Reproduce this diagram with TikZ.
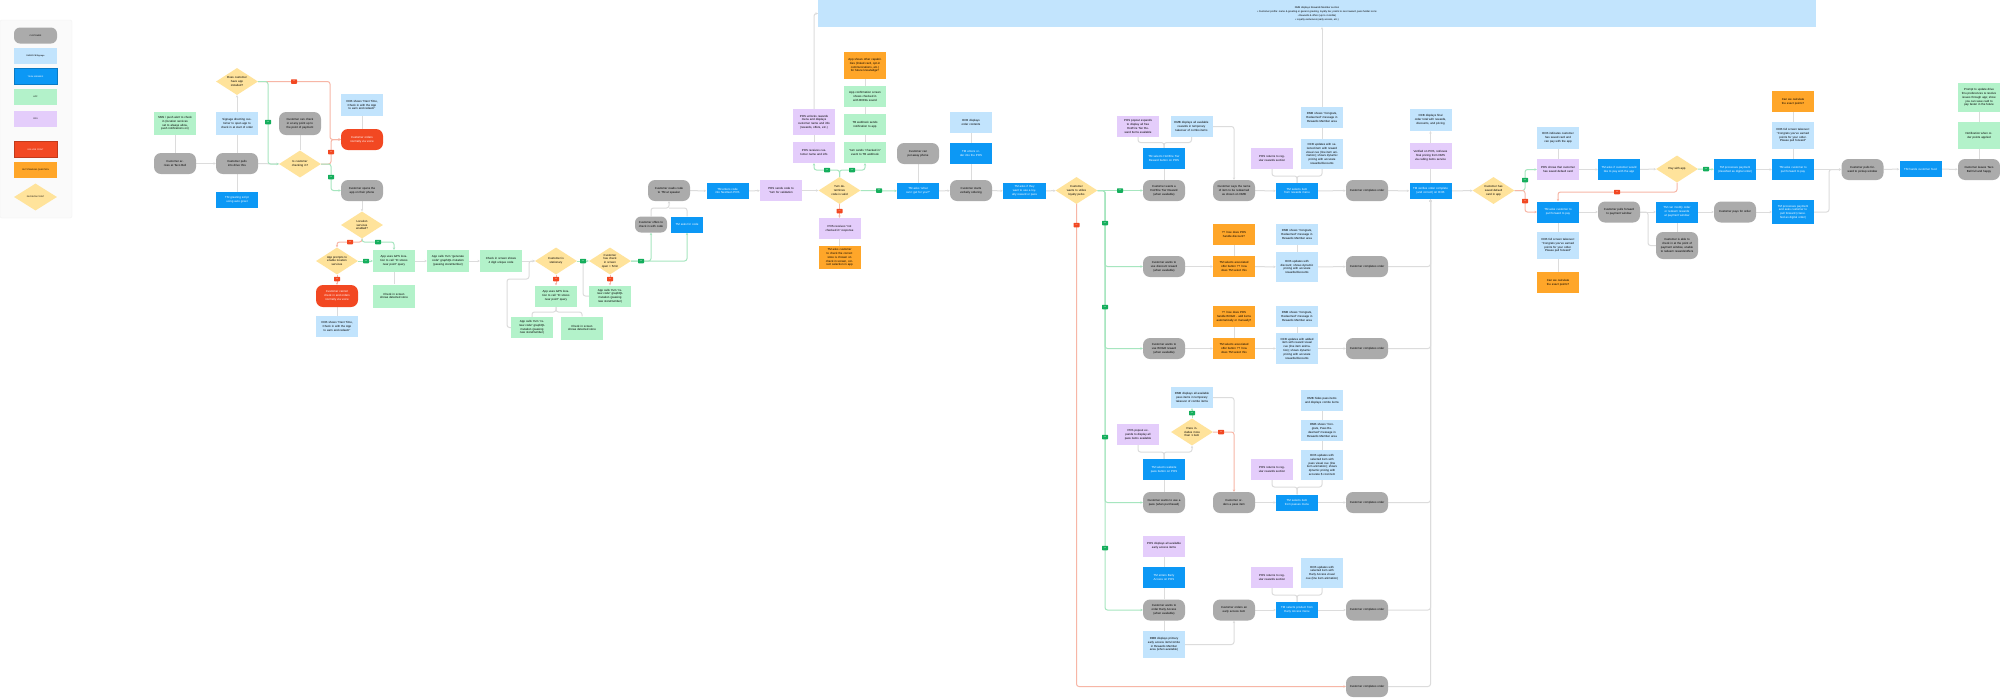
\documentclass[tikz,border=0pt]{standalone}
\usepackage{fontspec}
\setmainfont{Liberation Sans}
\usetikzlibrary{shapes.geometric,arrows.meta,backgrounds}

\definecolor{custgray}{HTML}{ABABAB}
\definecolor{scrblue}{HTML}{C2E4FD}
\definecolor{tmblue}{HTML}{0C98F5}
\definecolor{appgreen}{HTML}{B3F2CA}
\definecolor{posviolet}{HTML}{E4CDFB}
\definecolor{failred}{HTML}{F24822}
\definecolor{askorange}{HTML}{FFA629}
\definecolor{decyellow}{HTML}{FFE39B}
\definecolor{linegray}{HTML}{DCDCDC}
\definecolor{linegreen}{HTML}{A6E6BF}
\definecolor{linered}{HTML}{F7B6A6}
\definecolor{labgreen}{HTML}{14AE5C}

\begin{document}
\begin{tikzpicture}[x=1pt,y=-1pt,
  box/.style={rectangle,font=\fontsize{2.9}{3.8}\selectfont,align=center,
              text width=35pt,minimum width=42pt,minimum height=21pt,inner sep=0pt},
  pill/.style={box,fill=custgray,rounded corners=7pt},
  scrn/.style={box,fill=scrblue},
  tmbox/.style={box,fill=tmblue,text=white,minimum height=16pt},
  appbox/.style={box,fill=appgreen},
  posbox/.style={box,fill=posviolet},
  failpill/.style={pill,fill=failred,text=white},
  askbox/.style={box,fill=askorange},
  decision/.style={diamond,aspect=1.55,fill=decyellow,font=\fontsize{2.9}{3.8}\selectfont,
                   align=center,text width=20pt,minimum width=42pt,minimum height=27pt,inner sep=0pt},
  lgitem/.style={box,minimum width=43pt,minimum height=16pt,font=\fontsize{2.1}{2.7}\selectfont},
  flow/.style={draw=linegray,line width=1pt,rounded corners=2.5pt,
               -{Stealth[length=2.4pt,width=2.4pt]}},
  link/.style={draw=linegray,line width=1pt,rounded corners=2.5pt},
  yesflow/.style={flow,draw=linegreen},
  noflow/.style={flow,draw=linered},
  yeslab/.style={rectangle,rounded corners=0.6pt,fill=labgreen,text=white,
                 font=\fontsize{1.5}{1.7}\selectfont,inner sep=0pt,minimum width=6pt,minimum height=4.5pt},
  nolab/.style={yeslab,fill=failred},
]

\useasboundingbox (0,0) rectangle (2000,697);

% Legend
\node[rectangle,rounded corners=2pt,fill=black!2,draw=black!5,minimum width=72pt,
      minimum height=198pt,inner sep=0pt] (legend) at (36,119) {};
\node[lgitem,fill=custgray,rounded corners=6pt] (lgcust) at (35.5,35.5) {CUSTOMER};
\node[lgitem,fill=scrblue] (lgscreen) at (35.5,56) {DMB/OCB/Signage};
\node[lgitem,fill=tmblue,text=white,draw=tmblue!80!black,line width=0.4pt] (lgtm) at (35.5,76.5) {TEAM MEMBER};
\node[lgitem,fill=appgreen] (lgapp) at (35.5,97) {APP};
\node[lgitem,fill=posviolet] (lgpos) at (35.5,118.5) {POS};
\node[lgitem,fill=failred,text=white,draw=failred!80!black,line width=0.4pt] (lgfail) at (35.5,149.5) {FAILURE POINT};
\node[lgitem,fill=askorange] (lgask) at (35.5,170) {OUTSTANDING QUESTION};
\node[decision,minimum width=43pt,font=\fontsize{2.1}{2.7}\selectfont] (lgdec) at (35.5,197) {DECISION POINT};

% Arrival and check in
\node[appbox,minimum height=23pt] (sms) at (175,123.5) {SMS / push alert to check in (location services set to always allow, push notifications on)};
\node[pill] (arrive) at (175,163.5) {Customer arrives at Taco Bell};
\node[pill] (pullin) at (237,163.5) {Customer pulls into drive thru};
\node[scrn,minimum height=23pt] (signage) at (237,123.5) {Signage directing customer to open app to check in at start of order};
\node[decision] (hasapp) at (237,81.5) {Does customer have app installed?};
\node[tmbox] (greet) at (237,200) {TM greeting script using auto greet};
\node[pill,minimum height=23pt] (anytime) at (300,123.5) {Customer can check in at any point up to the point of payment};
\node[decision] (checking) at (300,164) {Is customer checking in?};
\node[scrn,minimum height=22pt] (ocbnext1) at (362,105) {OCB shows “Next Time, Check in with the App to earn and redeem”};
\node[failpill] (voice1) at (362,139.5) {Customer orders normally via voice};
\node[pill] (openapp) at (362,190.5) {Customer opens the app on their phone};
\node[decision] (locsvc) at (362,225) {Location services enabled?};
\node[decision] (prompt) at (337,261) {App prompts to enable location services};
\node[appbox,minimum height=22pt] (gps1) at (394,261) {App uses GPS location to call “IC stores near point” query};
\node[appbox,minimum height=23pt] (detect1) at (394,296) {Check in screen shows detected store};
\node[failpill,minimum height=22pt] (cannot) at (337,296) {Customer cannot check in and orders normally via voice};
\node[scrn] (ocbnext2) at (337,326.5) {OCB shows “Next Time, Check in with the App to earn and redeem”};
\node[appbox,minimum height=22pt] (gencode) at (448,261) {App calls Yum “generate code” graphQL mutation (passing storeNumber)};
\node[appbox,minimum height=22pt] (fourdig) at (501,261) {Check in screen shows 4 digit unique code};
\node[decision] (still) at (556,261) {Customer is stationary};
\node[decision] (fivemin) at (610,261) {Customer has check in screen open > 5min};
\node[appbox] (gps2) at (556,296) {App uses GPS location to call “IC stores near point” query};
\node[appbox] (renew1) at (532,327.5) {App calls Yum “renew code” graphQL mutation (passing new storeNumber)};
\node[appbox,minimum height=23pt] (detect2) at (582,328) {Check in screen shows detected store};
\node[appbox] (renew2) at (610,296) {App calls Yum “renew code” graphQL mutation (passing new storeNumber)};

% Code check in at the speaker
\node[pill,minimum width=32pt,text width=28pt,minimum height=16pt,rounded corners=6pt] (offer) at (651,224.5) {Customer offers to check in with code};
\node[tmbox,minimum width=32pt,text width=28pt] (askcode) at (687,224.5) {TM asks for code};
\node[pill] (readcode) at (669,190.5) {Customer reads code to TM at speaker};
\node[tmbox] (entercode) at (727.5,191) {TM enters code into NextGen POS};
\node[posbox] (sendcode) at (781,190.5) {POS sends code to Yum for validation};
\node[decision] (valid) at (839.5,190.5) {Yum determines code is valid};
\node[posbox] (notin) at (839.5,228.5) {POS receives “not checked in” response};
\node[askbox,minimum height=23pt] (wrongstore) at (839.5,257.5) {TM asks customer to check the correct store is chosen on check in screen, correct selection in app};
\node[posbox] (posinfo) at (814,152.5) {POS receives customer name and info};
\node[posbox,minimum height=26pt] (posunlock) at (814,122) {POS unlocks rewards menu and displays customer name and info (rewards, offers, etc.)};
\node[appbox] (yumevent) at (865,152.5) {Yum sends “checked in” event to TB webhook};
\node[appbox] (webhook) at (865,124.5) {TB webhook sends notification to app};
\node[appbox] (confirm) at (865,96.5) {App confirmation screen shows checked in with BONG sound};
\node[askbox,minimum height=27pt] (capab) at (865,65.5) {App shows other capabilities (linked card, opt-in communications, etc.) for future knowledge?};

% Rewards member banner
\node[rectangle,fill=scrblue,minimum width=998pt,minimum height=27pt,inner sep=0pt] (dmbtop) at (1317,13.5) {};
\node[font=\fontsize{2.5}{4}\selectfont,align=center,inner sep=0pt] (dmbtext) at (1317,13.5)
  {DMB displays Rewards Member section\\
   • Customer profile: name \& greeting or generic greeting, loyalty tier, points to next reward, pass holder icons\\
   • Rewards \& offers (up to 4 visible)\\
   • Loyalty exclusives (early access, etc.)};

% Ordering
\node[tmbox] (whatget) at (918,191) {TM asks “what can I get for you?”};
\node[pill] (putaway) at (918,153.5) {Customer can put away phone};
\node[pill] (verbal) at (971,190.5) {Customer starts verbally ordering};
\node[tmbox,minimum height=21pt] (enterorder) at (971,153.5) {TM enters order into the POS};
\node[scrn] (ocborder) at (971,122.5) {OCB displays order contents};
\node[tmbox,minimum width=43pt] (askloyal) at (1024.5,191) {TM asks if they want to use a loyalty reward or pass};
\node[decision] (perks) at (1076.5,190.5) {Customer wants to utilize loyalty perks};

% Hot/Fire tier reward
\node[pill] (firepill) at (1164,190.5) {Customer wants a Hot/Fire Tier Reward (when available)};
\node[tmbox,minimum height=21pt] (firebtn) at (1164,158.5) {TM selects Hot/Fire Tier Reward button on POS};
\node[posbox] (firepos) at (1138,126.5) {POS popout expands to display all free Hot/Fire Tier Reward Items available};
\node[scrn] (firedmb) at (1191.5,126.5) {DMB displays all available rewards in temporary takeover of combo items};
\node[pill] (saysname) at (1234,190.5) {Customer says the name of item to be redeemed as shown on DMB};
\node[tmbox] (pickrew) at (1297,191) {TM selects item from rewards menu};
\node[posbox] (posret1) at (1272,158.5) {POS returns to regular rewards section};
\node[scrn,minimum height=30pt] (ocbrew1) at (1322,154) {OCB updates with selected item with reward visual cue (line item animation); shows dynamic pricing with accurate rewards/discounts};
\node[scrn] (dmbcon1) at (1322,117.5) {DMB shows “Congrats, Redeemed” message in Rewards Member area};
\node[pill] (done1) at (1367,190.5) {Customer completes order};
\node[tmbox] (verify) at (1430.5,191) {TM verifies order complete (and correct) on OCB};
\node[posbox,minimum height=26pt] (verpos) at (1430.5,156) {Verified on POS, retrieves final pricing from DMS via calling items service};
\node[scrn,minimum height=22pt] (ocbtotal) at (1430.5,120) {OCB displays final order total with rewards, discounts, and pricing};

% Discount reward
\node[pill] (discpill) at (1164,266.5) {Customer wants to use discount reward (when available)};
\node[askbox] (discq) at (1234,234.5) {?? how does POS handle discount?};
\node[askbox] (discbtn) at (1234,266.5) {TM selects associated offer button ?? how does TM select this};
\node[scrn] (dmbcon2) at (1297,234.5) {DMB shows “Congrats, Redeemed” message in Rewards Member area};
\node[scrn,minimum height=30pt] (ocbdisc) at (1297,267) {OCB updates with discount; shows dynamic pricing with accurate rewards/discounts};
\node[pill] (done2) at (1367,266.5) {Customer completes order};

% BOGO reward
\node[pill] (bogopill) at (1164,348.5) {Customer wants to use BOGO reward (when available)};
\node[askbox] (bogoq) at (1234,316.5) {?? how does POS handle BOGO - add items automatically or manually?};
\node[askbox] (bogobtn) at (1234,348.5) {TM selects associated offer button ?? how does TM select this};
\node[scrn] (dmbcon3) at (1297,316.5) {DMB shows “Congrats, Redeemed” message in Rewards Member area};
\node[scrn,minimum height=31pt] (ocbbogo) at (1297,348.5) {OCB updates with added item with reward visual cue (line item animation); shows dynamic pricing with accurate rewards/discounts};
\node[pill] (done3) at (1367,348.5) {Customer completes order};

% Pass
\node[pill] (passpill) at (1164,502.5) {Customer wants to use a pass (when purchased)};
\node[tmbox,minimum height=21pt] (passbtn) at (1164,469.5) {TM selects website pass button on POS};
\node[posbox] (passpos) at (1138,434.5) {POS popout expands to display all pass items available};
\node[decision] (multi) at (1192,432) {Pass includes more than 1 item};
\node[scrn] (passdmb) at (1192,397.5) {DMB displays all available pass items in temporary takeover of combo items};
\node[pill] (passitem) at (1234,502.5) {Customer orders a pass item};
\node[tmbox] (pickpass) at (1297,502.5) {TM selects item from passes menu};
\node[posbox] (posret4) at (1272,469.5) {POS returns to regular rewards section};
\node[scrn,minimum height=30pt] (ocbpass) at (1322,465) {OCB updates with selected item with pass visual cue (line item animation); shows dynamic pricing with accurate \$ cost item};
\node[scrn] (dmbcon4) at (1322,430.5) {DMB shows “Congrats, Pass Redeemed” message in Rewards Member area};
\node[scrn] (dmbhide) at (1322,400.5) {DMB hides pass items and displays combo items};
\node[pill] (done4) at (1367,502.5) {Customer completes order};

% Early access
\node[pill] (eapill) at (1164,610) {Customer wants to order Early Access (when available)};
\node[tmbox,minimum height=21pt] (eabtn) at (1164,577.5) {TM enters Early Access on POS};
\node[posbox] (eapos) at (1164,546) {POS displays all available early access items};
\node[scrn,minimum height=27pt] (eadmb) at (1164,644.5) {DMB displays primary early access item/combo in Rewards Member area (when available)};
\node[pill] (eaitem) at (1234,610) {Customer orders an early access item};
\node[tmbox] (pickea) at (1297,610) {TM selects product from Early Access menu};
\node[posbox] (posret5) at (1272,577.5) {POS returns to regular rewards section};
\node[scrn,minimum height=30pt] (ocbea) at (1322,573) {OCB updates with selected item with Early Access visual cue (line item animation)};
\node[pill] (done5) at (1367,610) {Customer completes order};
\node[pill] (done6) at (1367,686.5) {Customer completes order};

% Payment and pickup
\node[decision] (savedcard) at (1493.5,190.5) {Customer has saved default card in app};
\node[posbox] (possaved) at (1558,169.5) {POS shows that customer has saved default card};
\node[scrn,minimum height=22pt] (ocbsaved) at (1558,138) {OCB indicates customer has saved card and can pay with the app};
\node[tmbox,minimum height=21pt] (askapp) at (1619,169.5) {TM asks if customer would like to pay with the app};
\node[decision] (paywith) at (1677,169) {Pay with app};
\node[tmbox,minimum height=21pt] (process1) at (1735,169.5) {TM processes payment (classified as digital order)};
\node[tmbox,minimum height=21pt] (pullfwd1) at (1793,169.5) {TM asks customer to pull forward to pay};
\node[scrn,minimum height=27pt] (ocbpts1) at (1793,135.5) {OCB full screen takeover: “Congrats you’ve earned points for your order. Please pull forward”};
\node[askbox] (calc1) at (1793,101.5) {Can we calculate the exact points?};
\node[tmbox,minimum height=21pt] (pullfwd2) at (1558,212) {TM asks customer to pull forward to pay};
\node[scrn,minimum height=27pt] (ocbpts2) at (1558,245.5) {OCB full screen takeover: “Congrats you’ve earned points for your order. Please pull forward”};
\node[askbox] (calc2) at (1558,282.5) {Can we calculate the exact points?};
\node[pill] (paywin) at (1619,212) {Customer pulls forward to payment window};
\node[tmbox,minimum height=21pt] (modify) at (1677,212) {TM can modify order or redeem rewards at payment window};
\node[pill,minimum height=27pt] (latecheck) at (1677,245.5) {Customer is able to check in at the point of payment window, unable to redeem rewards/offers};
\node[pill] (pays) at (1735,212) {Customer pays for order};
\node[tmbox,minimum height=24pt] (process2) at (1793,212) {TM processes payment and asks customer to pull forward (classified as digital order)};
\node[pill] (pickup) at (1862.5,169.5) {Customer pulls forward to pickup window};
\node[tmbox] (food) at (1920.5,169) {TM hands customer food};
\node[pill] (leaves) at (1979,169.5) {Customer leaves Taco Bell full and happy};
\node[appbox,minimum height=27pt] (notif) at (1979,135.5) {Notification when order points applied};
\node[appbox,minimum height=29pt] (prefs) at (1979,97.5) {Prompt to update drive thru preferences \& resolve issues through app; show you can save card to pay faster in the future};

% Connectors
\begin{scope}[on background layer]
\fill[white] (0,0) rectangle (2000,697);
\draw[link] (sms) -- (arrive);
\draw[flow] (arrive) -- (pullin);
\draw[link] (pullin) -- (signage);
\draw[flow] (signage) -- (hasapp);
\draw[link] (pullin) -- (greet);
\draw[flow] (pullin) -- (checking);
\draw[link] (anytime) -- (checking);
\draw[noflow] (hasapp.east) -- (330,81.5) -- (330,139.5) -- (voice1.west);
\draw[yesflow] (hasapp.east) -- (268,81.5) -- (268,164) -- (checking.west);
\draw[noflow] (checking.east) -- (331,164) -- (331,139.5) -- (voice1.west);
\draw[yesflow] (checking.east) -- (331,164) -- (331,190.5) -- (openapp.west);
\draw[link] (voice1) -- (ocbnext1);
\draw[flow] (openapp) -- (locsvc);
\draw[noflow] (locsvc.south) -- (362,242) -- (337,242) -- (prompt.north);
\draw[yesflow] (locsvc.south) -- (362,242) -- (394,242) -- (gps1.north);
\draw[yesflow] (prompt) -- (gps1);
\draw[noflow] (prompt) -- (cannot);
\draw[link] (cannot) -- (ocbnext2);
\draw[link] (gps1) -- (detect1);
\draw[flow] (gps1) -- (gencode);
\draw[flow] (gencode) -- (fourdig);
\draw[flow] (fourdig) -- (still);
\draw[yesflow] (still) -- (fivemin);
\draw[noflow] (still) -- (gps2);
\draw[link] (gps2.south) -- (556,312) -| (renew1.north);
\draw[link] (gps2.south) -- (556,312) -| (detect2.north);
\draw[flow] (renew1.west) -- (507,327.5) -- (507,279) -- (529,279) -- (529,261) -- (still.west);
\draw[noflow] (fivemin) -- (renew2);
\draw[link] (renew2.west) -- (583,296) -- (583,261);
\draw[yesflow] (fivemin.east) -- (687,261) -- (askcode.south);
\draw[yesflow] (fivemin.east) -- (651,261) -- (offer.south);
\draw[flow] (offer.north) -- (651,208) -- (669,208) -- (readcode.south);
\draw[link] (askcode.north) -- (687,208) -- (669,208);
\draw[flow] (readcode) -- (entercode);
\draw[flow] (entercode) -- (sendcode);
\draw[flow] (sendcode) -- (valid);
\draw[noflow] (valid) -- (notin);
\draw[link] (notin) -- (wrongstore);
\draw[yesflow] (valid) -- (whatget);
\draw[yesflow] (valid.north) -- (839.5,170) -- (814,170) -- (posinfo.south);
\draw[yesflow] (valid.north) -- (839.5,170) -- (865,170) -- (yumevent.south);
\draw[link] (posinfo) -- (posunlock);
\draw[flow] (posunlock.north) -- (814,13.5) -- (dmbtop.west);
\draw[link] (yumevent) -- (webhook) -- (confirm) -- (capab);
\draw[link] (whatget) -- (putaway);
\draw[flow] (whatget) -- (verbal);
\draw[link] (verbal) -- (enterorder) -- (ocborder);
\draw[flow] (verbal) -- (askloyal);
\draw[flow] (askloyal) -- (perks);
\draw[yesflow] (perks) -- (firepill);
\draw[yesflow] (perks.east) -- (1105,190.5) -- (1105,266.5) -- (discpill.west);
\draw[yesflow] (perks.east) -- (1105,190.5) -- (1105,348.5) -- (bogopill.west);
\draw[yesflow] (perks.east) -- (1105,190.5) -- (1105,502.5) -- (passpill.west);
\draw[yesflow] (perks.east) -- (1105,190.5) -- (1105,610) -- (eapill.west);
\draw[noflow] (perks.south) -- (1076.5,686.5) -- (done6.west);
% hot/fire row
\draw[link] (firepill) -- (firebtn);
\draw[link] (firebtn.north) -- (1164,142.5) -| (firepos.south);
\draw[link] (firebtn.north) -- (1164,142.5) -| (firedmb.south);
\draw[flow] (firedmb.east) -- (1234,126.5) -- (saysname.north);
\draw[flow] (saysname) -- (pickrew);
\draw[flow] (pickrew) -- (done1);
\draw[link] (pickrew.north) -- (1297,176) -| (posret1.south);
\draw[link] (pickrew.north) -- (1297,176) -| (ocbrew1.south);
\draw[link] (ocbrew1) -- (dmbcon1);
\draw[flow] (dmbcon1.north) -- (dmbcon1.north |- dmbtop.south);
\draw[flow] (done1) -- (verify);
\draw[link] (verify) -- (verpos);
\draw[flow] (verpos) -- (ocbtotal);
\draw[flow] (verify) -- (savedcard);
% discount row
\draw[flow] (discpill) -- (discbtn);
\draw[link] (discbtn) -- (discq);
\draw[flow] (discbtn) -- (ocbdisc);
\draw[link] (ocbdisc) -- (dmbcon2);
\draw[flow] (ocbdisc) -- (done2);
\draw[flow] (done2.east) -- (1430.5,266.5) -- (verify.south);
% bogo row
\draw[flow] (bogopill) -- (bogobtn);
\draw[link] (bogobtn) -- (bogoq);
\draw[flow] (bogobtn) -- (ocbbogo);
\draw[link] (ocbbogo) -- (dmbcon3);
\draw[flow] (ocbbogo) -- (done3);
\draw[flow] (done3.east) -- (1430.5,348.5) -- (verify.south);
% pass row
\draw[link] (passpill) -- (passbtn);
\draw[link] (passbtn.north) -- (1164,452) -| (passpos.south);
\draw[flow] (passbtn.north) -- (1164,452) -| (multi.south);
\draw[yesflow] (multi) -- (passdmb);
\draw[link] (passdmb.east) -- (1234,397.5) -- (1234,432);
\draw[noflow] (multi.east) -- (1234,432) -- (passitem.north);
\draw[flow] (passitem) -- (pickpass);
\draw[flow] (pickpass) -- (done4);
\draw[link] (pickpass.north) -- (1297,487) -| (posret4.south);
\draw[link] (pickpass.north) -- (1297,487) -| (ocbpass.south);
\draw[link] (ocbpass) -- (dmbcon4) -- (dmbhide);
\draw[flow] (done4.east) -- (1430.5,502.5) -- (verify.south);
% early access row
\draw[link] (eapill) -- (eabtn) -- (eapos);
\draw[link] (eapill) -- (eadmb);
\draw[flow] (eadmb.east) -- (1234,644.5) -- (eaitem.south);
\draw[flow] (eaitem) -- (pickea);
\draw[flow] (pickea) -- (done5);
\draw[link] (pickea.north) -- (1297,595) -| (posret5.south);
\draw[link] (pickea.north) -- (1297,595) -| (ocbea.south);
\draw[flow] (done5.east) -- (1430.5,610) -- (verify.south);
\draw[flow] (done6.east) -- (1430.5,686.5) -- (verify.south);
% payment
\draw[yesflow] (savedcard.east) -- (1525,190.5) -- (1525,169.5) -- (possaved.west);
\draw[noflow] (savedcard.east) -- (1525,190.5) -- (1525,212) -- (pullfwd2.west);
\draw[link] (possaved) -- (ocbsaved);
\draw[flow] (possaved) -- (askapp);
\draw[flow] (askapp) -- (paywith);
\draw[yesflow] (paywith) -- (process1);
\draw[noflow] (paywith.south) -- (1677,192) -- (1558,192) -- (pullfwd2.north);
\draw[flow] (process1) -- (pullfwd1);
\draw[link] (pullfwd1) -- (ocbpts1) -- (calc1);
\draw[flow] (pullfwd1) -- (pickup);
\draw[link] (pullfwd2) -- (ocbpts2) -- (calc2);
\draw[flow] (pullfwd2) -- (paywin);
\draw[flow] (paywin) -- (modify);
\draw[link] (paywin.east) -- (1648,212) -- (1648,245.5) -- (latecheck.west);
\draw[link] (modify) -- (latecheck);
\draw[flow] (modify) -- (pays);
\draw[flow] (pays) -- (process2);
\draw[flow] (process2.east) -- (1829,212) -- (1829,169.5) -- (pickup.west);
\draw[flow] (pickup) -- (food);
\draw[flow] (food) -- (leaves);
\draw[link] (leaves) -- (notif) -- (prefs);
\end{scope}

% Branch labels
\node[nolab] (n1) at (294,81.5) {no};
\node[yeslab] (y1) at (268,122) {yes};
\node[nolab] (n2) at (331,152) {no};
\node[yeslab] (y2) at (331,177) {yes};
\node[nolab] (n3) at (350,242) {no};
\node[yeslab] (y3) at (378,242) {yes};
\node[yeslab] (y4) at (366,261) {yes};
\node[nolab] (n4) at (337,279) {no};
\node[nolab] (n5) at (556,279) {no};
\node[yeslab] (y5) at (583,261) {yes};
\node[nolab] (n6) at (610,279) {no};
\node[yeslab] (y6) at (641,261) {yes};
\node[nolab] (n7) at (839.5,211) {no};
\node[yeslab] (y7) at (879,190.5) {yes};
\node[yeslab] (y8) at (827,170) {yes};
\node[yeslab] (y9) at (852,170) {yes};
\node[yeslab] (y10) at (1120,190.5) {yes};
\node[nolab] (n8) at (1076.5,225) {no};
\node[yeslab] (y11) at (1105,223) {yes};
\node[yeslab] (y12) at (1105,307) {yes};
\node[yeslab] (y13) at (1105,437) {yes};
\node[yeslab] (y14) at (1105,548) {yes};
\node[yeslab] (y15) at (1192,413) {yes};
\node[nolab] (n9) at (1221,432) {no};
\node[yeslab] (y16) at (1525,180) {yes};
\node[nolab] (n10) at (1525,201) {no};
\node[yeslab] (y17) at (1706,169) {yes};
\node[nolab] (n11) at (1617,192) {no};

\end{tikzpicture}
\end{document}
